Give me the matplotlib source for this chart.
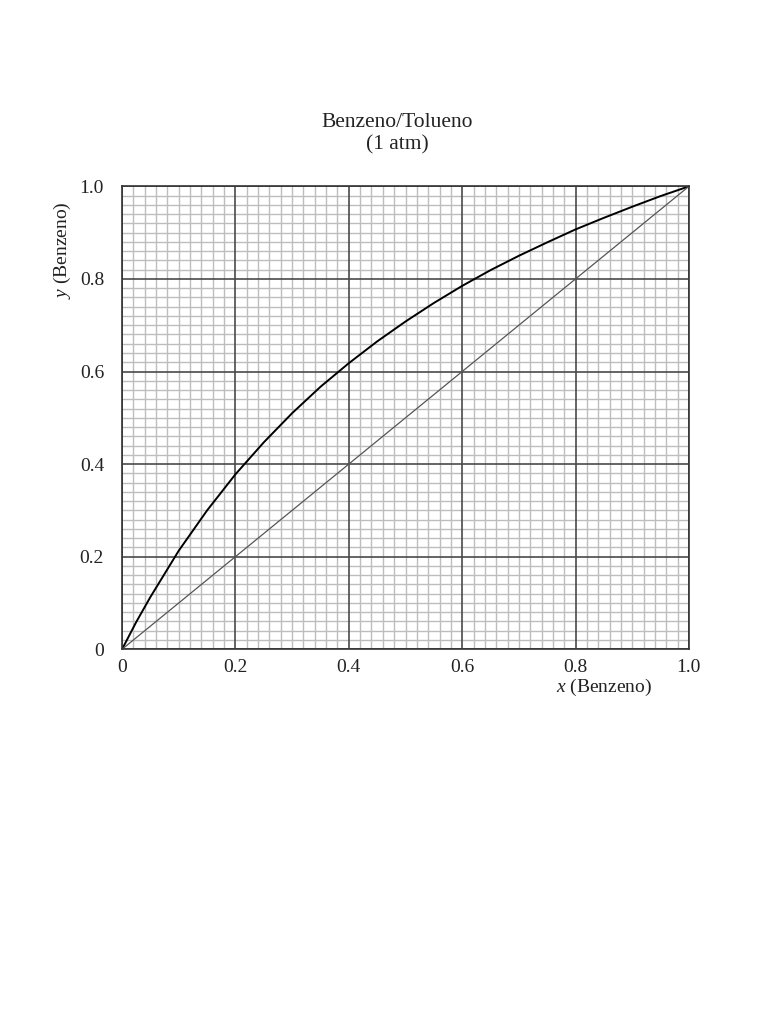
import matplotlib
matplotlib.use("Agg")
import matplotlib.pyplot as plt
from matplotlib.ticker import MultipleLocator

# equilibrium curve
x_eq = [0.0, 0.025, 0.05, 0.1, 0.15, 0.2, 0.25, 0.3, 0.35, 0.4, 0.45, 0.5,
        0.55, 0.6, 0.65, 0.7, 0.75, 0.8, 0.85, 0.9, 0.95, 1.0]
y_eq = [0.0, 0.059, 0.113, 0.213, 0.300, 0.378, 0.447, 0.510, 0.567, 0.618, 0.665, 0.708,
        0.748, 0.785, 0.819, 0.850, 0.879, 0.907, 0.932, 0.956, 0.979, 1.0]
# 45 degree line
x_diag = [0.0, 1.0]
y_diag = [0.0, 1.0]

tick_vals = [0, 0.2, 0.4, 0.6, 0.8, 1.0]
x_tick_labels = ["0", "0.2", "0.4", "0.6", "0.8", "1.0"]
y_tick_labels = ["0", "0.2", "0.4", "0.6", "0.8", "1.0"]

plt.rcParams["font.family"] = ["Liberation Serif", "DejaVu Serif"]
plt.rcParams["mathtext.fontset"] = "custom"
plt.rcParams["mathtext.it"] = "Liberation Serif:italic"
plt.rcParams["mathtext.rm"] = "Liberation Serif"

fig = plt.figure(figsize=(7.68, 10.24), dpi=100)
ax = fig.add_axes([0.159, 0.366, 0.738, 0.452])

ax.plot(x_eq, y_eq, color="black", lw=1.4, zorder=4)
ax.plot(x_diag, y_diag, color="#555555", lw=0.9, zorder=4)

ax.set_xlim(0, 1)
ax.set_ylim(0, 1)
ax.set_xticks(tick_vals)
ax.set_xticklabels(x_tick_labels)
ax.set_yticks(tick_vals)
ax.set_yticklabels(y_tick_labels)
ax.xaxis.set_minor_locator(MultipleLocator(0.02))
ax.yaxis.set_minor_locator(MultipleLocator(0.02))
ax.grid(which="minor", color="#bdbdbd", lw=1.0, zorder=1)
ax.grid(which="major", visible=False)
for v in tick_vals:
    ax.axvline(v, color="#4a4a4a", lw=1.2, zorder=2)
    ax.axhline(v, color="#4a4a4a", lw=1.2, zorder=2)
ax.tick_params(which="both", length=0, labelsize=14, colors="#222222")
ax.tick_params(axis="x", pad=7)
ax.tick_params(axis="y", pad=13)
for s in ax.spines.values():
    s.set_color("#333333")
    s.set_linewidth(1.2)
    s.set_zorder(5)

fig.text(0.786, 0.329, "$\\mathit{x}$ (Benzeno)", ha="center", va="center", fontsize=14, color="#222222")
fig.text(0.081, 0.756, "$\\mathit{y}$ (Benzeno)", ha="center", va="center", rotation=90, fontsize=14, color="#222222")
fig.text(0.517, 0.880, "Benzeno/Tolueno", ha="center", va="center", fontsize=15.5, color="#222222")
fig.text(0.517, 0.859, "(1 atm)", ha="center", va="center", fontsize=15.5, color="#222222")

fig.savefig("out.png", dpi=100, facecolor="white")
